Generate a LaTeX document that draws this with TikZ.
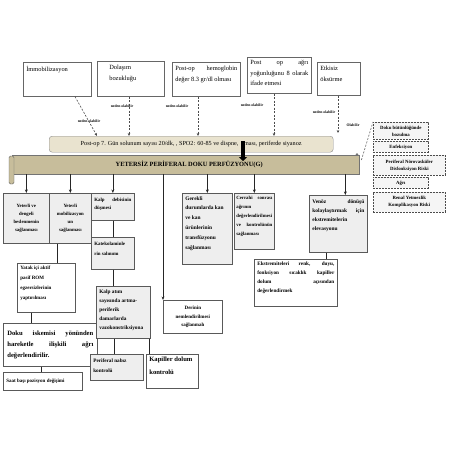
\documentclass[tikz,border=0pt]{standalone}
\usepackage{fontspec}
\setmainfont{Liberation Serif}
\usetikzlibrary{arrows.meta,calc}
\definecolor{bandA}{HTML}{C7BD9B}
\definecolor{bandB}{HTML}{E9E3CF}
\definecolor{boxg}{HTML}{EEEEEE}
\newcommand{\fs}[2]{\fontsize{#1}{#2}\selectfont}
\newcommand{\jl}[1]{\makebox[\linewidth][s]{#1}}
\newcommand{\tbx}[4]{\parbox[c][#2pt][#3]{#1pt}{#4}}
\tikzset{
  tbox/.style={draw=black!60, fill=white, line width=0.6pt, anchor=north west, inner sep=3pt, font=\fs{6.4}{10.5}},
  gbox/.style={draw=black!65, fill=boxg, line width=0.7pt, anchor=north west, inner sep=3pt, font=\bfseries\fs{5.4}{9.5}},
  wbox/.style={gbox, fill=white},
  rbox/.style={draw=black!70, dashed, dash pattern=on 2pt off 1pt, fill=gray!8, line width=0.7pt, anchor=north west, inner sep=0pt, font=\bfseries\fs{4.8}{7}, align=center},
  lab/.style={font=\bfseries\fs{3.8}{4}, inner sep=0pt},
  conn/.style={line width=0.7pt, draw=black!85},
  arr/.style={conn, -{Stealth[length=3.5pt,width=2.8pt]}},
  darr/.style={line width=0.6pt, draw=black!70, dash pattern=on 2pt off 1.5pt, -{Stealth[length=3pt,width=2.6pt]}},
}
\begin{document}
\begin{tikzpicture}[x=1pt,y=-1pt]
\useasboundingbox[fill=white] (0,0) rectangle (452,452);

% top cause boxes
\node[tbox] (imm) at (23,62) {\tbx{62}{28}{t}{\raggedright\vspace*{1pt}İmmobilizasyon}};
\node[tbox] (dol) at (97,61) {\tbx{61}{29}{t}{\raggedright\leftskip=9pt\vspace*{1pt}Dolaşım\\bozukluğu}};
\node[tbox] (hem) at (172,62) {\tbx{62}{28}{t}{\raggedright\vspace*{1pt}\jl{Post-op hemoglobin}\\değer 8.3 gr/dl olması}};
\node[tbox] (agri) at (247,57) {\tbx{58}{30}{t}{\raggedright\jl{Post op ağrı}\\\jl{yoğunluğunu 8 olarak}\\ifade etmesi}};
\node[tbox] (oks) at (317,62) {\tbx{37}{27}{t}{\raggedright\vspace*{1pt}Etkisiz\\öksürme}};

% bands
\node[draw=black!45, fill=bandB, rounded corners=3pt, anchor=north west, minimum width=284pt, minimum height=16pt, inner sep=0pt, font=\fs{6.2}{7}] (pband) at (49,136)
  {Post-op 7. Gün solunum sayısı 20/dk, , SPO2: 60-85 ve dispne, \hspace{4pt}ması, periferde siyanoz};
\node[draw=black!55, fill=bandA, anchor=north west, minimum width=347pt, minimum height=19pt, inner sep=0pt, font=\bfseries\fs{6.4}{7}] (mband) at (12,155)
  {\hspace{7pt}YETERSİZ PERİFERAL DOKU PERFÜZYONU(G)};
\draw[fill=bandA, draw=black!60, rounded corners=1.5pt] (9,156) rectangle (14,184);
\fill[black!55] (357,154.5) circle (1.3pt);

% labels
\node[lab] (l1) at (89,121) {neden olabilir};
\node[lab] (l2) at (122,106) {neden olabilir};
\node[lab] (l3) at (177,106) {neden olabilir};
\node[lab] (l4) at (252,105) {neden olabilir};
\node[lab] (l5) at (324,112) {neden olabilir};
\node[lab] (l6) at (353,125) {Olabilir};

% dashed arrows from causes
\coordinate (oksend) at (338,133);
\draw[darr] ($(imm.south west)+(52,0)$) -- ($(pband.north west)+(48,0)$);
\draw[darr] ($(dol.south west)+(32,0)$) -- ($(pband.north west)+(80,0)$);
\draw[darr] ($(hem.south west)+(26,0)$) -- ($(pband.north west)+(149,0)$);
\draw[darr] ($(agri.south west)+(27,0)$) -- ($(pband.north west)+(225,0)$);
\draw[darr] ($(oks.south west)+(21,0)$) -- (oksend);

% big black arrow
\coordinate (ba) at ($(pband.north west)+(194,5)$);
\coordinate (bb) at ($(mband.north west)+(231,6)$);
\draw[line width=3.6pt, -{Triangle[width=8pt,length=4pt]}] (ba) -- (bb);

% second row boxes
\node[gbox, font=\bfseries\fs{4.8}{7.8}] (b1) at (3,193) {\tbx{40}{44}{c}{\centering Yeterli ve\\dengeli\\beslenmenin\\sağlanması}};
\node[gbox, font=\bfseries\fs{4.8}{7.8}] (b2) at (49,193) {\tbx{36}{44}{c}{\centering Yeterli\\mobilizasyon\\un\\sağlanması}};
\node[gbox, font=\bfseries\fs{4.9}{8.2}] (b3) at (91,193) {\tbx{37}{21}{t}{\raggedright\vspace*{2pt}\jl{Kalp debisinin}\\düşmesi}};
\node[gbox, font=\bfseries\fs{4.9}{9.5}] (kat) at (91,237) {\tbx{37}{26}{t}{\raggedright\vspace*{2pt}Katekolaminle\\rin salınımı}};
\node[wbox, font=\bfseries\fs{5}{10}] (yatak) at (17,263) {\tbx{52}{43}{t}{\raggedright Yatak içi aktif\\pasif ROM\\egzersizlerinin\\yaptırılması}};
\node[wbox, font=\bfseries\fs{6.6}{11}, inner xsep=4pt] (iskemi) at (3,323) {\tbx{86}{37}{c}{\raggedright\jl{Doku iskemisi yönünden}\\\jl{hareketle ilişkili ağrı}\\değerlendirilir.}};
\node[gbox, font=\bfseries\fs{5.3}{9}] (atim) at (96,286) {\tbx{48}{46}{t}{\raggedright Kalp atım\\sayısında artma-\\periferik\\damarlarda\\vazokonstriksiyona}};
\node[wbox, font=\bfseries\fs{5}{7}] (saat) at (3,372) {\tbx{73}{12}{c}{\raggedright Saat başı pozisyon değişimi}};
\node[gbox, font=\bfseries\fs{5.2}{10}] (nabiz) at (90,354) {\tbx{47}{20}{t}{\raggedright\vspace*{1pt}Periferal nabız\\kontrolü}};
\node[wbox, font=\bfseries\fs{6.6}{13}] (kap) at (146,354) {\tbx{46}{28}{t}{\raggedright Kapiller dolum\\kontrolü}};
\node[wbox, font=\bfseries\fs{5}{8.5}] (der) at (163,300) {\tbx{53}{27}{c}{\centering Derinin\\nemlendirilmesi\\sağlanmalı}};
\node[gbox, font=\bfseries\fs{5.4}{9.8}] (ger) at (182,193) {\tbx{44}{65}{t}{\raggedright Gerekli\\durumlarda kan\\ve kan\\ürünlerinin\\transfüzyonu\\sağlanması}};
\node[gbox, font=\bfseries\fs{4.8}{9}, inner xsep=2pt] (cer) at (234,193) {\tbx{36}{50}{t}{\raggedright\jl{Cerrahi sonrası}\\ağrının\\değerlendirilmesi\\\jl{ve kontrolünün}\\sağlanması}};
\node[gbox, font=\bfseries\fs{5.4}{9.3}] (ven) at (309,195) {\tbx{52}{51}{t}{\raggedright\vspace*{1pt}\jl{Venöz dönüşü}\\\jl{kolaylaştırmak için}\\ekstremitelerin\\elevasyonu}};
\node[wbox, font=\bfseries\fs{5.2}{9}] (eks) at (254,259) {\tbx{77}{41}{t}{\raggedright\jl{Ekstremiteleri renk, duyu,}\\\jl{fonksiyon sıcaklık kapiller}\\\jl{dolum açısından}\\değerlendirmek}};

% right dashed boxes
\node[rbox, minimum width=55pt, minimum height=17pt] (r1) at (373,122) {Doku bütünlüğünde\\bozulma};
\node[rbox, minimum width=55pt, minimum height=11pt] (r2) at (373,141) {Enfeksiyon};
\node[rbox, minimum width=72pt, minimum height=20pt] (r3) at (373,155) {Periferal Nörovasküler\\Disfonksiyon Riski};
\node[rbox, minimum width=55pt, minimum height=11pt] (r4) at (373,177) {Ağrı};
\node[rbox, minimum width=72pt, minimum height=20pt] (r5) at (373,192) {Renal Yetmezlik\\Komplikasyon Riski};
\draw[line width=0.6pt, draw=black!60, dash pattern=on 2pt off 1.5pt] ($(mband.north east)+(2,5)$) -- (r1.north west);

% arrows from main band
\draw[arr] (mband.south -| b1.north) -- (b1.north);
\draw[arr] (mband.south -| b2.north) -- (b2.north);
\draw[arr] (mband.south -| b3.north) -- (b3.north);
\draw[arr] (mband.south -| ger.north) -- (ger.north);
\draw[arr] (mband.south -| cer.north) -- (cer.north);
\coordinate (vtop) at ($(ven.north)+(7,0)$);
\draw[arr] (vtop |- mband.south) -- (vtop);
\draw[arr] (der.north west |- mband.south) -- (der.north west);

% plain connectors
\coordinate (yk) at ($(yatak.north west)+(40,0)$);
\draw[conn] (yk |- b2.south) -- (yk);
\coordinate (ys) at ($(yatak.south west)+(14,0)$);
\draw[conn] (ys) -- (ys |- iskemi.north);
\coordinate (is) at ($(saat.north west)+(38,0)$);
\draw[conn] (is |- iskemi.south) -- (is);
\draw[conn] (b3.south) -- (kat.north);
\draw[conn] (kat.south) -- (kat.south |- atim.north);
\coordinate (a1) at ($(atim.south west)+(18,0)$);
\draw[conn] (a1) -- (a1 |- nabiz.north);
\coordinate (a2) at ($(atim.south west)+(53,0)$);
\draw[conn] (a2) -- (a2 |- kap.north);
\coordinate (v1) at ($(ven.south west)+(17,0)$);
\draw[conn] (v1) -- (v1 |- eks.north);
\end{tikzpicture}
\end{document}
